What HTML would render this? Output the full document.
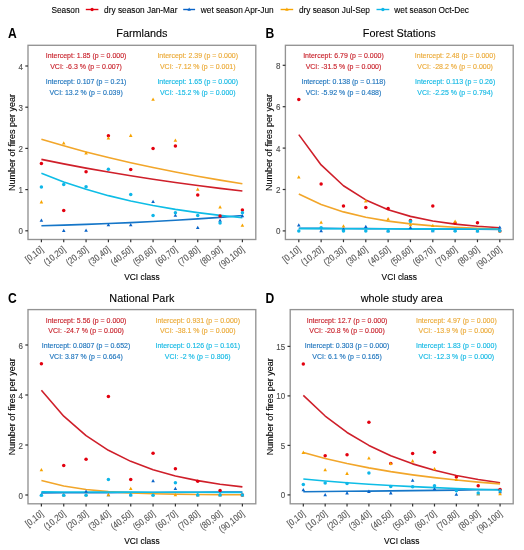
<!DOCTYPE html>
<html><head><meta charset="utf-8"><style>
html,body{margin:0;padding:0;background:#fff;width:524px;height:550px;overflow:hidden}
svg{display:block;will-change:transform}
</style></head><body>
<svg width="524" height="550" viewBox="0 0 524 550" font-family="Liberation Sans, sans-serif">
<rect width="524" height="550" fill="#fff"/>
<text x="51.4" y="12.5" font-size="8.3" fill="#000" stroke="#000" stroke-width="0.1">Season</text>
<line x1="85.8" y1="9.5" x2="98.4" y2="9.5" stroke="#E3000F" stroke-width="1.4"/>
<circle cx="92.10" cy="9.50" r="1.66" fill="#E3000F"/>
<text x="104.1" y="12.5" font-size="8.3" fill="#000" stroke="#000" stroke-width="0.1">dry season Jan-Mar</text>
<line x1="183.2" y1="9.5" x2="195.1" y2="9.5" stroke="#0A64C8" stroke-width="1.4"/>
<path d="M189.15 7.62L190.86 10.75L187.44 10.75Z" fill="#0A64C8"/>
<text x="200.8" y="12.5" font-size="8.3" fill="#000" stroke="#000" stroke-width="0.1">wet season Apr-Jun</text>
<line x1="280.6" y1="9.5" x2="293.2" y2="9.5" stroke="#F7A400" stroke-width="1.4"/>
<path d="M286.90 7.62L288.61 10.75L285.19 10.75Z" fill="#F7A400"/>
<text x="298.9" y="12.5" font-size="8.3" fill="#000" stroke="#000" stroke-width="0.1">dry season Jul-Sep</text>
<line x1="376.5" y1="9.5" x2="389.3" y2="9.5" stroke="#0EB6E8" stroke-width="1.4"/>
<circle cx="382.90" cy="9.50" r="1.66" fill="#0EB6E8"/>
<text x="394.3" y="12.5" font-size="8.3" fill="#000" stroke="#000" stroke-width="0.1">wet season Oct-Dec</text>
<text transform="translate(8.00,38.20) scale(0.93,1.08)" font-size="13" font-weight="bold" fill="#000">A</text>
<text x="141.90" y="37.20" font-size="10.85" text-anchor="middle" fill="#000" stroke="#000" stroke-width="0.1">Farmlands</text>
<g>
<polyline points="41.40,159.38 63.73,163.88 86.07,168.10 108.40,172.05 130.73,175.75 153.07,179.22 175.40,182.47 197.73,185.51 220.07,188.36 242.40,191.04" fill="none" stroke="#CF1F2A" stroke-width="1.6" stroke-linejoin="round"/>
<polyline points="41.40,225.81 63.73,225.15 86.07,224.41 108.40,223.56 130.73,222.61 153.07,221.52 175.40,220.30 197.73,218.91 220.07,217.34 242.40,215.57" fill="none" stroke="#1576C8" stroke-width="1.6" stroke-linejoin="round"/>
<polyline points="41.40,139.34 63.73,145.85 86.07,151.90 108.40,157.52 130.73,162.74 153.07,167.58 175.40,172.08 197.73,176.27 220.07,180.15 242.40,183.75" fill="none" stroke="#F2A62A" stroke-width="1.6" stroke-linejoin="round"/>
<polyline points="41.40,173.15 63.73,181.92 86.07,189.35 108.40,195.65 130.73,200.99 153.07,205.52 175.40,209.36 197.73,212.62 220.07,215.38 242.40,217.73" fill="none" stroke="#0EBDE6" stroke-width="1.6" stroke-linejoin="round"/>
<circle cx="41.40" cy="163.60" r="1.75" fill="#E3000F"/>
<path d="M41.40 218.52L43.20 221.82L39.60 221.82Z" fill="#0A64C8"/>
<path d="M41.40 200.12L43.20 203.42L39.60 203.42Z" fill="#F7A400"/>
<circle cx="41.40" cy="187.10" r="1.75" fill="#0EB6E8"/>
<circle cx="63.73" cy="210.50" r="1.75" fill="#E3000F"/>
<path d="M63.73 228.82L65.53 232.12L61.93 232.12Z" fill="#0A64C8"/>
<path d="M63.73 141.22L65.53 144.52L61.93 144.52Z" fill="#F7A400"/>
<circle cx="63.73" cy="184.40" r="1.75" fill="#0EB6E8"/>
<circle cx="86.07" cy="171.80" r="1.75" fill="#E3000F"/>
<path d="M86.07 228.42L87.87 231.72L84.27 231.72Z" fill="#0A64C8"/>
<path d="M86.07 151.32L87.87 154.62L84.27 154.62Z" fill="#F7A400"/>
<circle cx="86.07" cy="186.80" r="1.75" fill="#0EB6E8"/>
<circle cx="108.40" cy="135.70" r="1.75" fill="#E3000F"/>
<path d="M108.40 223.02L110.20 226.32L106.60 226.32Z" fill="#0A64C8"/>
<path d="M108.40 136.22L110.20 139.52L106.60 139.52Z" fill="#F7A400"/>
<circle cx="108.40" cy="169.30" r="1.75" fill="#0EB6E8"/>
<circle cx="130.73" cy="169.60" r="1.75" fill="#E3000F"/>
<path d="M130.73 223.02L132.53 226.32L128.93 226.32Z" fill="#0A64C8"/>
<path d="M130.73 133.62L132.53 136.92L128.93 136.92Z" fill="#F7A400"/>
<circle cx="130.73" cy="194.50" r="1.75" fill="#0EB6E8"/>
<circle cx="153.07" cy="148.60" r="1.75" fill="#E3000F"/>
<path d="M153.07 199.82L154.87 203.12L151.27 203.12Z" fill="#0A64C8"/>
<path d="M153.07 97.52L154.87 100.82L151.27 100.82Z" fill="#F7A400"/>
<circle cx="153.07" cy="215.40" r="1.75" fill="#0EB6E8"/>
<circle cx="175.40" cy="145.90" r="1.75" fill="#E3000F"/>
<path d="M175.40 213.42L177.20 216.72L173.60 216.72Z" fill="#0A64C8"/>
<path d="M175.40 138.42L177.20 141.72L173.60 141.72Z" fill="#F7A400"/>
<circle cx="175.40" cy="212.70" r="1.75" fill="#0EB6E8"/>
<circle cx="197.73" cy="195.00" r="1.75" fill="#E3000F"/>
<path d="M197.73 225.72L199.53 229.02L195.93 229.02Z" fill="#0A64C8"/>
<path d="M197.73 187.52L199.53 190.82L195.93 190.82Z" fill="#F7A400"/>
<circle cx="197.73" cy="215.40" r="1.75" fill="#0EB6E8"/>
<circle cx="220.07" cy="216.00" r="1.75" fill="#E3000F"/>
<path d="M220.07 218.42L221.87 221.72L218.27 221.72Z" fill="#0A64C8"/>
<path d="M220.07 205.32L221.87 208.62L218.27 208.62Z" fill="#F7A400"/>
<circle cx="220.07" cy="223.10" r="1.75" fill="#0EB6E8"/>
<circle cx="242.40" cy="210.00" r="1.75" fill="#E3000F"/>
<path d="M242.40 214.02L244.20 217.32L240.60 217.32Z" fill="#0A64C8"/>
<path d="M242.40 223.52L244.20 226.82L240.60 226.82Z" fill="#F7A400"/>
<circle cx="242.40" cy="212.70" r="1.75" fill="#0EB6E8"/>
<text transform="translate(86.07,58.20) scale(1,1.14)" font-size="7" text-anchor="middle" fill="#C8202A" stroke="#C8202A" stroke-width="0.12">Intercept: 1.85 (p = 0.000)</text>
<text transform="translate(86.07,68.60) scale(1,1.14)" font-size="7" text-anchor="middle" fill="#C8202A" stroke="#C8202A" stroke-width="0.12">VCI: -6.3 % (p = 0.007)</text>
<text transform="translate(86.07,84.10) scale(1,1.14)" font-size="7" text-anchor="middle" fill="#1A72BC" stroke="#1A72BC" stroke-width="0.12">Intercept: 0.107 (p = 0.21)</text>
<text transform="translate(86.07,94.50) scale(1,1.14)" font-size="7" text-anchor="middle" fill="#1A72BC" stroke="#1A72BC" stroke-width="0.12">VCI: 13.2 % (p = 0.039)</text>
<text transform="translate(197.73,58.20) scale(1,1.14)" font-size="7" text-anchor="middle" fill="#EBA935" stroke="#EBA935" stroke-width="0.12">Intercept: 2.39 (p = 0.000)</text>
<text transform="translate(197.73,68.60) scale(1,1.14)" font-size="7" text-anchor="middle" fill="#EBA935" stroke="#EBA935" stroke-width="0.12">VCI: -7.12 % (p = 0.001)</text>
<text transform="translate(197.73,84.10) scale(1,1.14)" font-size="7" text-anchor="middle" fill="#10B8E4" stroke="#10B8E4" stroke-width="0.12">Intercept: 1.65 (p = 0.000)</text>
<text transform="translate(197.73,94.50) scale(1,1.14)" font-size="7" text-anchor="middle" fill="#10B8E4" stroke="#10B8E4" stroke-width="0.12">VCI: -15.2 % (p = 0.000)</text>
</g>
<rect x="28.00" y="45.30" width="227.80" height="194.20" fill="none" stroke="#939393" stroke-width="1.35"/>
<line x1="25.30" y1="230.80" x2="28.00" y2="230.80" stroke="#333" stroke-width="1.2"/>
<text transform="translate(23.00,234.30) scale(1,1.18)" font-size="8" text-anchor="end" fill="#4d4d4d" stroke="#4d4d4d" stroke-width="0.12">0</text>
<line x1="25.30" y1="189.60" x2="28.00" y2="189.60" stroke="#333" stroke-width="1.2"/>
<text transform="translate(23.00,193.10) scale(1,1.18)" font-size="8" text-anchor="end" fill="#4d4d4d" stroke="#4d4d4d" stroke-width="0.12">1</text>
<line x1="25.30" y1="148.40" x2="28.00" y2="148.40" stroke="#333" stroke-width="1.2"/>
<text transform="translate(23.00,151.90) scale(1,1.18)" font-size="8" text-anchor="end" fill="#4d4d4d" stroke="#4d4d4d" stroke-width="0.12">2</text>
<line x1="25.30" y1="107.20" x2="28.00" y2="107.20" stroke="#333" stroke-width="1.2"/>
<text transform="translate(23.00,110.70) scale(1,1.18)" font-size="8" text-anchor="end" fill="#4d4d4d" stroke="#4d4d4d" stroke-width="0.12">3</text>
<line x1="25.30" y1="66.00" x2="28.00" y2="66.00" stroke="#333" stroke-width="1.2"/>
<text transform="translate(23.00,69.50) scale(1,1.18)" font-size="8" text-anchor="end" fill="#4d4d4d" stroke="#4d4d4d" stroke-width="0.12">4</text>
<line x1="41.40" y1="239.50" x2="41.40" y2="242.20" stroke="#333" stroke-width="1.2"/>
<text transform="translate(40.10,245.70) rotate(-38) scale(1,1.16)" x="0" y="5.4" font-size="8.0" text-anchor="end" fill="#555" stroke="#555" stroke-width="0.1">[0,10]</text>
<line x1="63.73" y1="239.50" x2="63.73" y2="242.20" stroke="#333" stroke-width="1.2"/>
<text transform="translate(62.43,245.70) rotate(-38) scale(1,1.16)" x="0" y="5.4" font-size="8.0" text-anchor="end" fill="#555" stroke="#555" stroke-width="0.1">(10,20]</text>
<line x1="86.07" y1="239.50" x2="86.07" y2="242.20" stroke="#333" stroke-width="1.2"/>
<text transform="translate(84.77,245.70) rotate(-38) scale(1,1.16)" x="0" y="5.4" font-size="8.0" text-anchor="end" fill="#555" stroke="#555" stroke-width="0.1">(20,30]</text>
<line x1="108.40" y1="239.50" x2="108.40" y2="242.20" stroke="#333" stroke-width="1.2"/>
<text transform="translate(107.10,245.70) rotate(-38) scale(1,1.16)" x="0" y="5.4" font-size="8.0" text-anchor="end" fill="#555" stroke="#555" stroke-width="0.1">(30,40]</text>
<line x1="130.73" y1="239.50" x2="130.73" y2="242.20" stroke="#333" stroke-width="1.2"/>
<text transform="translate(129.43,245.70) rotate(-38) scale(1,1.16)" x="0" y="5.4" font-size="8.0" text-anchor="end" fill="#555" stroke="#555" stroke-width="0.1">(40,50]</text>
<line x1="153.07" y1="239.50" x2="153.07" y2="242.20" stroke="#333" stroke-width="1.2"/>
<text transform="translate(151.77,245.70) rotate(-38) scale(1,1.16)" x="0" y="5.4" font-size="8.0" text-anchor="end" fill="#555" stroke="#555" stroke-width="0.1">(50,60]</text>
<line x1="175.40" y1="239.50" x2="175.40" y2="242.20" stroke="#333" stroke-width="1.2"/>
<text transform="translate(174.10,245.70) rotate(-38) scale(1,1.16)" x="0" y="5.4" font-size="8.0" text-anchor="end" fill="#555" stroke="#555" stroke-width="0.1">(60,70]</text>
<line x1="197.73" y1="239.50" x2="197.73" y2="242.20" stroke="#333" stroke-width="1.2"/>
<text transform="translate(196.43,245.70) rotate(-38) scale(1,1.16)" x="0" y="5.4" font-size="8.0" text-anchor="end" fill="#555" stroke="#555" stroke-width="0.1">(70,80]</text>
<line x1="220.07" y1="239.50" x2="220.07" y2="242.20" stroke="#333" stroke-width="1.2"/>
<text transform="translate(218.77,245.70) rotate(-38) scale(1,1.16)" x="0" y="5.4" font-size="8.0" text-anchor="end" fill="#555" stroke="#555" stroke-width="0.1">(80,90]</text>
<line x1="242.40" y1="239.50" x2="242.40" y2="242.20" stroke="#333" stroke-width="1.2"/>
<text transform="translate(241.10,245.70) rotate(-38) scale(1,1.16)" x="0" y="5.4" font-size="8.0" text-anchor="end" fill="#555" stroke="#555" stroke-width="0.1">(90,100]</text>
<text x="141.90" y="280.10" font-size="8.4" text-anchor="middle" fill="#000" stroke="#000" stroke-width="0.12">VCI class</text>
<text transform="translate(14.80,142.40) rotate(-90)" x="0" y="0" font-size="9" text-anchor="middle" fill="#000" stroke="#000" stroke-width="0.12">Number of fires per year</text>
<text transform="translate(265.60,38.20) scale(0.93,1.08)" font-size="13" font-weight="bold" fill="#000">B</text>
<text x="399.30" y="37.20" font-size="10.85" text-anchor="middle" fill="#000" stroke="#000" stroke-width="0.1">Forest Stations</text>
<g>
<polyline points="298.80,134.62 321.13,164.95 343.47,185.72 365.80,199.95 388.13,209.70 410.47,216.38 432.80,220.95 455.13,224.09 477.47,226.23 499.80,227.70" fill="none" stroke="#CF1F2A" stroke-width="1.6" stroke-linejoin="round"/>
<polyline points="298.80,228.21 321.13,228.37 343.47,228.52 365.80,228.66 388.13,228.79 410.47,228.92 432.80,229.04 455.13,229.15 477.47,229.25 499.80,229.35" fill="none" stroke="#1576C8" stroke-width="1.6" stroke-linejoin="round"/>
<polyline points="298.80,194.04 321.13,204.44 343.47,211.90 365.80,217.26 388.13,221.10 410.47,223.87 432.80,225.85 455.13,227.27 477.47,228.30 499.80,229.03" fill="none" stroke="#F2A62A" stroke-width="1.6" stroke-linejoin="round"/>
<polyline points="298.80,228.61 321.13,228.66 343.47,228.72 365.80,228.76 388.13,228.81 410.47,228.86 432.80,228.91 455.13,228.95 477.47,228.99 499.80,229.04" fill="none" stroke="#0EBDE6" stroke-width="1.6" stroke-linejoin="round"/>
<circle cx="298.80" cy="99.60" r="1.75" fill="#E3000F"/>
<path d="M298.80 223.22L300.60 226.52L297.00 226.52Z" fill="#0A64C8"/>
<path d="M298.80 175.32L300.60 178.62L297.00 178.62Z" fill="#F7A400"/>
<circle cx="298.80" cy="230.90" r="1.75" fill="#0EB6E8"/>
<circle cx="321.13" cy="184.10" r="1.75" fill="#E3000F"/>
<path d="M321.13 228.92L322.93 232.22L319.33 232.22Z" fill="#0A64C8"/>
<path d="M321.13 220.52L322.93 223.82L319.33 223.82Z" fill="#F7A400"/>
<circle cx="321.13" cy="227.70" r="1.75" fill="#0EB6E8"/>
<circle cx="343.47" cy="206.10" r="1.75" fill="#E3000F"/>
<path d="M343.47 227.22L345.27 230.52L341.67 230.52Z" fill="#0A64C8"/>
<path d="M343.47 224.32L345.27 227.62L341.67 227.62Z" fill="#F7A400"/>
<circle cx="343.47" cy="230.90" r="1.75" fill="#0EB6E8"/>
<circle cx="365.80" cy="207.40" r="1.75" fill="#E3000F"/>
<path d="M365.80 224.72L367.60 228.02L364.00 228.02Z" fill="#0A64C8"/>
<path d="M365.80 199.12L367.60 202.42L364.00 202.42Z" fill="#F7A400"/>
<circle cx="365.80" cy="230.90" r="1.75" fill="#0EB6E8"/>
<circle cx="388.13" cy="208.40" r="1.75" fill="#E3000F"/>
<path d="M388.13 228.92L389.93 232.22L386.33 232.22Z" fill="#0A64C8"/>
<path d="M388.13 217.32L389.93 220.62L386.33 220.62Z" fill="#F7A400"/>
<circle cx="388.13" cy="230.90" r="1.75" fill="#0EB6E8"/>
<circle cx="410.47" cy="220.40" r="1.75" fill="#E3000F"/>
<path d="M410.47 225.72L412.27 229.02L408.67 229.02Z" fill="#0A64C8"/>
<path d="M410.47 223.02L412.27 226.32L408.67 226.32Z" fill="#F7A400"/>
<circle cx="410.47" cy="221.40" r="1.75" fill="#0EB6E8"/>
<circle cx="432.80" cy="206.10" r="1.75" fill="#E3000F"/>
<path d="M432.80 228.92L434.60 232.22L431.00 232.22Z" fill="#0A64C8"/>
<path d="M432.80 223.72L434.60 227.02L431.00 227.02Z" fill="#F7A400"/>
<circle cx="432.80" cy="230.40" r="1.75" fill="#0EB6E8"/>
<circle cx="455.13" cy="223.00" r="1.75" fill="#E3000F"/>
<path d="M455.13 228.42L456.93 231.72L453.33 231.72Z" fill="#0A64C8"/>
<path d="M455.13 219.52L456.93 222.82L453.33 222.82Z" fill="#F7A400"/>
<circle cx="455.13" cy="230.90" r="1.75" fill="#0EB6E8"/>
<circle cx="477.47" cy="222.80" r="1.75" fill="#E3000F"/>
<path d="M477.47 228.92L479.27 232.22L475.67 232.22Z" fill="#0A64C8"/>
<path d="M477.47 228.32L479.27 231.62L475.67 231.62Z" fill="#F7A400"/>
<circle cx="477.47" cy="230.90" r="1.75" fill="#0EB6E8"/>
<circle cx="499.80" cy="230.90" r="1.75" fill="#E3000F"/>
<path d="M499.80 225.42L501.60 228.72L498.00 228.72Z" fill="#0A64C8"/>
<path d="M499.80 228.92L501.60 232.22L498.00 232.22Z" fill="#F7A400"/>
<circle cx="499.80" cy="230.80" r="1.75" fill="#0EB6E8"/>
<text transform="translate(343.47,58.20) scale(1,1.14)" font-size="7" text-anchor="middle" fill="#C8202A" stroke="#C8202A" stroke-width="0.12">Intercept: 6.79 (p = 0.000)</text>
<text transform="translate(343.47,68.60) scale(1,1.14)" font-size="7" text-anchor="middle" fill="#C8202A" stroke="#C8202A" stroke-width="0.12">VCI: -31.5 % (p = 0.000)</text>
<text transform="translate(343.47,84.10) scale(1,1.14)" font-size="7" text-anchor="middle" fill="#1A72BC" stroke="#1A72BC" stroke-width="0.12">Intercept: 0.138 (p = 0.118)</text>
<text transform="translate(343.47,94.50) scale(1,1.14)" font-size="7" text-anchor="middle" fill="#1A72BC" stroke="#1A72BC" stroke-width="0.12">VCI: -5.92 % (p = 0.488)</text>
<text transform="translate(455.13,58.20) scale(1,1.14)" font-size="7" text-anchor="middle" fill="#EBA935" stroke="#EBA935" stroke-width="0.12">Intercept: 2.48 (p = 0.000)</text>
<text transform="translate(455.13,68.60) scale(1,1.14)" font-size="7" text-anchor="middle" fill="#EBA935" stroke="#EBA935" stroke-width="0.12">VCI: -28.2 % (p = 0.000)</text>
<text transform="translate(455.13,84.10) scale(1,1.14)" font-size="7" text-anchor="middle" fill="#10B8E4" stroke="#10B8E4" stroke-width="0.12">Intercept: 0.113 (p = 0.26)</text>
<text transform="translate(455.13,94.50) scale(1,1.14)" font-size="7" text-anchor="middle" fill="#10B8E4" stroke="#10B8E4" stroke-width="0.12">VCI: -2.25 % (p = 0.794)</text>
</g>
<rect x="285.40" y="45.30" width="227.80" height="194.20" fill="none" stroke="#939393" stroke-width="1.35"/>
<line x1="282.70" y1="230.90" x2="285.40" y2="230.90" stroke="#333" stroke-width="1.2"/>
<text transform="translate(280.40,234.40) scale(1,1.18)" font-size="8" text-anchor="end" fill="#4d4d4d" stroke="#4d4d4d" stroke-width="0.12">0</text>
<line x1="282.70" y1="189.50" x2="285.40" y2="189.50" stroke="#333" stroke-width="1.2"/>
<text transform="translate(280.40,193.00) scale(1,1.18)" font-size="8" text-anchor="end" fill="#4d4d4d" stroke="#4d4d4d" stroke-width="0.12">2</text>
<line x1="282.70" y1="148.10" x2="285.40" y2="148.10" stroke="#333" stroke-width="1.2"/>
<text transform="translate(280.40,151.60) scale(1,1.18)" font-size="8" text-anchor="end" fill="#4d4d4d" stroke="#4d4d4d" stroke-width="0.12">4</text>
<line x1="282.70" y1="106.70" x2="285.40" y2="106.70" stroke="#333" stroke-width="1.2"/>
<text transform="translate(280.40,110.20) scale(1,1.18)" font-size="8" text-anchor="end" fill="#4d4d4d" stroke="#4d4d4d" stroke-width="0.12">6</text>
<line x1="282.70" y1="65.30" x2="285.40" y2="65.30" stroke="#333" stroke-width="1.2"/>
<text transform="translate(280.40,68.80) scale(1,1.18)" font-size="8" text-anchor="end" fill="#4d4d4d" stroke="#4d4d4d" stroke-width="0.12">8</text>
<line x1="298.80" y1="239.50" x2="298.80" y2="242.20" stroke="#333" stroke-width="1.2"/>
<text transform="translate(297.50,245.70) rotate(-38) scale(1,1.16)" x="0" y="5.4" font-size="8.0" text-anchor="end" fill="#555" stroke="#555" stroke-width="0.1">[0,10]</text>
<line x1="321.13" y1="239.50" x2="321.13" y2="242.20" stroke="#333" stroke-width="1.2"/>
<text transform="translate(319.83,245.70) rotate(-38) scale(1,1.16)" x="0" y="5.4" font-size="8.0" text-anchor="end" fill="#555" stroke="#555" stroke-width="0.1">(10,20]</text>
<line x1="343.47" y1="239.50" x2="343.47" y2="242.20" stroke="#333" stroke-width="1.2"/>
<text transform="translate(342.17,245.70) rotate(-38) scale(1,1.16)" x="0" y="5.4" font-size="8.0" text-anchor="end" fill="#555" stroke="#555" stroke-width="0.1">(20,30]</text>
<line x1="365.80" y1="239.50" x2="365.80" y2="242.20" stroke="#333" stroke-width="1.2"/>
<text transform="translate(364.50,245.70) rotate(-38) scale(1,1.16)" x="0" y="5.4" font-size="8.0" text-anchor="end" fill="#555" stroke="#555" stroke-width="0.1">(30,40]</text>
<line x1="388.13" y1="239.50" x2="388.13" y2="242.20" stroke="#333" stroke-width="1.2"/>
<text transform="translate(386.83,245.70) rotate(-38) scale(1,1.16)" x="0" y="5.4" font-size="8.0" text-anchor="end" fill="#555" stroke="#555" stroke-width="0.1">(40,50]</text>
<line x1="410.47" y1="239.50" x2="410.47" y2="242.20" stroke="#333" stroke-width="1.2"/>
<text transform="translate(409.17,245.70) rotate(-38) scale(1,1.16)" x="0" y="5.4" font-size="8.0" text-anchor="end" fill="#555" stroke="#555" stroke-width="0.1">(50,60]</text>
<line x1="432.80" y1="239.50" x2="432.80" y2="242.20" stroke="#333" stroke-width="1.2"/>
<text transform="translate(431.50,245.70) rotate(-38) scale(1,1.16)" x="0" y="5.4" font-size="8.0" text-anchor="end" fill="#555" stroke="#555" stroke-width="0.1">(60,70]</text>
<line x1="455.13" y1="239.50" x2="455.13" y2="242.20" stroke="#333" stroke-width="1.2"/>
<text transform="translate(453.83,245.70) rotate(-38) scale(1,1.16)" x="0" y="5.4" font-size="8.0" text-anchor="end" fill="#555" stroke="#555" stroke-width="0.1">(70,80]</text>
<line x1="477.47" y1="239.50" x2="477.47" y2="242.20" stroke="#333" stroke-width="1.2"/>
<text transform="translate(476.17,245.70) rotate(-38) scale(1,1.16)" x="0" y="5.4" font-size="8.0" text-anchor="end" fill="#555" stroke="#555" stroke-width="0.1">(80,90]</text>
<line x1="499.80" y1="239.50" x2="499.80" y2="242.20" stroke="#333" stroke-width="1.2"/>
<text transform="translate(498.50,245.70) rotate(-38) scale(1,1.16)" x="0" y="5.4" font-size="8.0" text-anchor="end" fill="#555" stroke="#555" stroke-width="0.1">(90,100]</text>
<text x="399.30" y="280.10" font-size="8.4" text-anchor="middle" fill="#000" stroke="#000" stroke-width="0.12">VCI class</text>
<text transform="translate(272.20,142.40) rotate(-90)" x="0" y="0" font-size="9" text-anchor="middle" fill="#000" stroke="#000" stroke-width="0.12">Number of fires per year</text>
<text transform="translate(8.00,302.50) scale(0.93,1.08)" font-size="13" font-weight="bold" fill="#000">C</text>
<text x="141.90" y="301.50" font-size="10.85" text-anchor="middle" fill="#000" stroke="#000" stroke-width="0.1">National Park</text>
<g>
<polyline points="41.40,390.33 63.73,416.19 86.07,435.65 108.40,450.31 130.73,461.35 153.07,469.66 175.40,475.92 197.73,480.63 220.07,484.18 242.40,486.85" fill="none" stroke="#CF1F2A" stroke-width="1.6" stroke-linejoin="round"/>
<polyline points="41.40,492.90 63.73,492.82 86.07,492.74 108.40,492.65 130.73,492.56 153.07,492.47 175.40,492.37 197.73,492.27 220.07,492.16 242.40,492.05" fill="none" stroke="#1576C8" stroke-width="1.6" stroke-linejoin="round"/>
<polyline points="41.40,480.59 63.73,486.08 86.07,489.48 108.40,491.58 130.73,492.88 153.07,493.69 175.40,494.19 197.73,494.50 220.07,494.69 242.40,494.81" fill="none" stroke="#F2A62A" stroke-width="1.6" stroke-linejoin="round"/>
<polyline points="41.40,491.91 63.73,491.97 86.07,492.04 108.40,492.09 130.73,492.15 153.07,492.21 175.40,492.27 197.73,492.32 220.07,492.37 242.40,492.43" fill="none" stroke="#0EBDE6" stroke-width="1.6" stroke-linejoin="round"/>
<circle cx="41.40" cy="363.80" r="1.75" fill="#E3000F"/>
<path d="M41.40 493.02L43.20 496.32L39.60 496.32Z" fill="#0A64C8"/>
<path d="M41.40 468.02L43.20 471.32L39.60 471.32Z" fill="#F7A400"/>
<circle cx="41.40" cy="495.20" r="1.75" fill="#0EB6E8"/>
<circle cx="63.73" cy="465.60" r="1.75" fill="#E3000F"/>
<path d="M63.73 493.02L65.53 496.32L61.93 496.32Z" fill="#0A64C8"/>
<path d="M63.73 493.02L65.53 496.32L61.93 496.32Z" fill="#F7A400"/>
<circle cx="63.73" cy="495.20" r="1.75" fill="#0EB6E8"/>
<circle cx="86.07" cy="459.30" r="1.75" fill="#E3000F"/>
<path d="M86.07 489.42L87.87 492.72L84.27 492.72Z" fill="#0A64C8"/>
<path d="M86.07 493.02L87.87 496.32L84.27 496.32Z" fill="#F7A400"/>
<circle cx="86.07" cy="495.20" r="1.75" fill="#0EB6E8"/>
<circle cx="108.40" cy="396.60" r="1.75" fill="#E3000F"/>
<path d="M108.40 493.02L110.20 496.32L106.60 496.32Z" fill="#0A64C8"/>
<path d="M108.40 493.02L110.20 496.32L106.60 496.32Z" fill="#F7A400"/>
<circle cx="108.40" cy="479.50" r="1.75" fill="#0EB6E8"/>
<circle cx="130.73" cy="479.50" r="1.75" fill="#E3000F"/>
<path d="M130.73 493.02L132.53 496.32L128.93 496.32Z" fill="#0A64C8"/>
<path d="M130.73 486.72L132.53 490.02L128.93 490.02Z" fill="#F7A400"/>
<circle cx="130.73" cy="495.00" r="1.75" fill="#0EB6E8"/>
<circle cx="153.07" cy="453.30" r="1.75" fill="#E3000F"/>
<path d="M153.07 479.02L154.87 482.32L151.27 482.32Z" fill="#0A64C8"/>
<path d="M153.07 493.02L154.87 496.32L151.27 496.32Z" fill="#F7A400"/>
<circle cx="153.07" cy="495.30" r="1.75" fill="#0EB6E8"/>
<circle cx="175.40" cy="468.80" r="1.75" fill="#E3000F"/>
<path d="M175.40 486.72L177.20 490.02L173.60 490.02Z" fill="#0A64C8"/>
<path d="M175.40 493.02L177.20 496.32L173.60 496.32Z" fill="#F7A400"/>
<circle cx="175.40" cy="482.70" r="1.75" fill="#0EB6E8"/>
<circle cx="197.73" cy="481.20" r="1.75" fill="#E3000F"/>
<path d="M197.73 493.02L199.53 496.32L195.93 496.32Z" fill="#0A64C8"/>
<path d="M197.73 493.02L199.53 496.32L195.93 496.32Z" fill="#F7A400"/>
<circle cx="197.73" cy="495.00" r="1.75" fill="#0EB6E8"/>
<circle cx="220.07" cy="490.50" r="1.75" fill="#E3000F"/>
<path d="M220.07 493.02L221.87 496.32L218.27 496.32Z" fill="#0A64C8"/>
<path d="M220.07 493.02L221.87 496.32L218.27 496.32Z" fill="#F7A400"/>
<circle cx="220.07" cy="495.00" r="1.75" fill="#0EB6E8"/>
<circle cx="242.40" cy="495.00" r="1.75" fill="#E3000F"/>
<path d="M242.40 493.02L244.20 496.32L240.60 496.32Z" fill="#0A64C8"/>
<path d="M242.40 493.02L244.20 496.32L240.60 496.32Z" fill="#F7A400"/>
<circle cx="242.40" cy="495.00" r="1.75" fill="#0EB6E8"/>
<text transform="translate(86.07,322.50) scale(1,1.14)" font-size="7" text-anchor="middle" fill="#C8202A" stroke="#C8202A" stroke-width="0.12">Intercept: 5.56 (p = 0.000)</text>
<text transform="translate(86.07,332.90) scale(1,1.14)" font-size="7" text-anchor="middle" fill="#C8202A" stroke="#C8202A" stroke-width="0.12">VCI: -24.7 % (p = 0.000)</text>
<text transform="translate(86.07,348.40) scale(1,1.14)" font-size="7" text-anchor="middle" fill="#1A72BC" stroke="#1A72BC" stroke-width="0.12">Intercept: 0.0807 (p = 0.652)</text>
<text transform="translate(86.07,358.80) scale(1,1.14)" font-size="7" text-anchor="middle" fill="#1A72BC" stroke="#1A72BC" stroke-width="0.12">VCI: 3.87 % (p = 0.664)</text>
<text transform="translate(197.73,322.50) scale(1,1.14)" font-size="7" text-anchor="middle" fill="#EBA935" stroke="#EBA935" stroke-width="0.12">Intercept: 0.931 (p = 0.000)</text>
<text transform="translate(197.73,332.90) scale(1,1.14)" font-size="7" text-anchor="middle" fill="#EBA935" stroke="#EBA935" stroke-width="0.12">VCI: -38.1 % (p = 0.000)</text>
<text transform="translate(197.73,348.40) scale(1,1.14)" font-size="7" text-anchor="middle" fill="#10B8E4" stroke="#10B8E4" stroke-width="0.12">Intercept: 0.126 (p = 0.161)</text>
<text transform="translate(197.73,358.80) scale(1,1.14)" font-size="7" text-anchor="middle" fill="#10B8E4" stroke="#10B8E4" stroke-width="0.12">VCI: -2 % (p = 0.806)</text>
</g>
<rect x="28.00" y="309.60" width="227.80" height="194.20" fill="none" stroke="#939393" stroke-width="1.35"/>
<line x1="25.30" y1="495.00" x2="28.00" y2="495.00" stroke="#333" stroke-width="1.2"/>
<text transform="translate(23.00,498.50) scale(1,1.18)" font-size="8" text-anchor="end" fill="#4d4d4d" stroke="#4d4d4d" stroke-width="0.12">0</text>
<line x1="25.30" y1="445.00" x2="28.00" y2="445.00" stroke="#333" stroke-width="1.2"/>
<text transform="translate(23.00,448.50) scale(1,1.18)" font-size="8" text-anchor="end" fill="#4d4d4d" stroke="#4d4d4d" stroke-width="0.12">2</text>
<line x1="25.30" y1="395.00" x2="28.00" y2="395.00" stroke="#333" stroke-width="1.2"/>
<text transform="translate(23.00,398.50) scale(1,1.18)" font-size="8" text-anchor="end" fill="#4d4d4d" stroke="#4d4d4d" stroke-width="0.12">4</text>
<line x1="25.30" y1="345.00" x2="28.00" y2="345.00" stroke="#333" stroke-width="1.2"/>
<text transform="translate(23.00,348.50) scale(1,1.18)" font-size="8" text-anchor="end" fill="#4d4d4d" stroke="#4d4d4d" stroke-width="0.12">6</text>
<line x1="41.40" y1="503.80" x2="41.40" y2="506.50" stroke="#333" stroke-width="1.2"/>
<text transform="translate(40.10,510.00) rotate(-38) scale(1,1.16)" x="0" y="5.4" font-size="8.0" text-anchor="end" fill="#555" stroke="#555" stroke-width="0.1">[0,10]</text>
<line x1="63.73" y1="503.80" x2="63.73" y2="506.50" stroke="#333" stroke-width="1.2"/>
<text transform="translate(62.43,510.00) rotate(-38) scale(1,1.16)" x="0" y="5.4" font-size="8.0" text-anchor="end" fill="#555" stroke="#555" stroke-width="0.1">(10,20]</text>
<line x1="86.07" y1="503.80" x2="86.07" y2="506.50" stroke="#333" stroke-width="1.2"/>
<text transform="translate(84.77,510.00) rotate(-38) scale(1,1.16)" x="0" y="5.4" font-size="8.0" text-anchor="end" fill="#555" stroke="#555" stroke-width="0.1">(20,30]</text>
<line x1="108.40" y1="503.80" x2="108.40" y2="506.50" stroke="#333" stroke-width="1.2"/>
<text transform="translate(107.10,510.00) rotate(-38) scale(1,1.16)" x="0" y="5.4" font-size="8.0" text-anchor="end" fill="#555" stroke="#555" stroke-width="0.1">(30,40]</text>
<line x1="130.73" y1="503.80" x2="130.73" y2="506.50" stroke="#333" stroke-width="1.2"/>
<text transform="translate(129.43,510.00) rotate(-38) scale(1,1.16)" x="0" y="5.4" font-size="8.0" text-anchor="end" fill="#555" stroke="#555" stroke-width="0.1">(40,50]</text>
<line x1="153.07" y1="503.80" x2="153.07" y2="506.50" stroke="#333" stroke-width="1.2"/>
<text transform="translate(151.77,510.00) rotate(-38) scale(1,1.16)" x="0" y="5.4" font-size="8.0" text-anchor="end" fill="#555" stroke="#555" stroke-width="0.1">(50,60]</text>
<line x1="175.40" y1="503.80" x2="175.40" y2="506.50" stroke="#333" stroke-width="1.2"/>
<text transform="translate(174.10,510.00) rotate(-38) scale(1,1.16)" x="0" y="5.4" font-size="8.0" text-anchor="end" fill="#555" stroke="#555" stroke-width="0.1">(60,70]</text>
<line x1="197.73" y1="503.80" x2="197.73" y2="506.50" stroke="#333" stroke-width="1.2"/>
<text transform="translate(196.43,510.00) rotate(-38) scale(1,1.16)" x="0" y="5.4" font-size="8.0" text-anchor="end" fill="#555" stroke="#555" stroke-width="0.1">(70,80]</text>
<line x1="220.07" y1="503.80" x2="220.07" y2="506.50" stroke="#333" stroke-width="1.2"/>
<text transform="translate(218.77,510.00) rotate(-38) scale(1,1.16)" x="0" y="5.4" font-size="8.0" text-anchor="end" fill="#555" stroke="#555" stroke-width="0.1">(80,90]</text>
<line x1="242.40" y1="503.80" x2="242.40" y2="506.50" stroke="#333" stroke-width="1.2"/>
<text transform="translate(241.10,510.00) rotate(-38) scale(1,1.16)" x="0" y="5.4" font-size="8.0" text-anchor="end" fill="#555" stroke="#555" stroke-width="0.1">(90,100]</text>
<text x="141.90" y="544.40" font-size="8.4" text-anchor="middle" fill="#000" stroke="#000" stroke-width="0.12">VCI class</text>
<text transform="translate(14.80,406.70) rotate(-90)" x="0" y="0" font-size="9" text-anchor="middle" fill="#000" stroke="#000" stroke-width="0.12">Number of fires per year</text>
<text transform="translate(265.60,302.50) scale(0.93,1.08)" font-size="13" font-weight="bold" fill="#000">D</text>
<text x="401.70" y="301.50" font-size="10.85" text-anchor="middle" fill="#000" stroke="#000" stroke-width="0.1">whole study area</text>
<g>
<polyline points="303.32,395.32 325.18,416.03 347.04,432.44 368.91,445.43 390.77,455.72 412.63,463.87 434.49,470.32 456.36,475.44 478.22,479.48 500.08,482.69" fill="none" stroke="#CF1F2A" stroke-width="1.6" stroke-linejoin="round"/>
<polyline points="303.32,491.72 325.18,491.52 347.04,491.32 368.91,491.10 390.77,490.87 412.63,490.62 434.49,490.36 456.36,490.08 478.22,489.79 500.08,489.48" fill="none" stroke="#1576C8" stroke-width="1.6" stroke-linejoin="round"/>
<polyline points="303.32,452.54 325.18,458.42 347.04,463.49 368.91,467.86 390.77,471.62 412.63,474.85 434.49,477.64 456.36,480.04 478.22,482.11 500.08,483.88" fill="none" stroke="#F2A62A" stroke-width="1.6" stroke-linejoin="round"/>
<polyline points="303.32,479.01 325.18,480.97 347.04,482.68 368.91,484.18 390.77,485.50 412.63,486.66 434.49,487.67 456.36,488.56 478.22,489.34 500.08,490.02" fill="none" stroke="#0EBDE6" stroke-width="1.6" stroke-linejoin="round"/>
<circle cx="303.32" cy="364.10" r="1.75" fill="#E3000F"/>
<path d="M303.32 488.02L305.12 491.32L301.52 491.32Z" fill="#0A64C8"/>
<path d="M303.32 450.62L305.12 453.92L301.52 453.92Z" fill="#F7A400"/>
<circle cx="303.32" cy="484.50" r="1.75" fill="#0EB6E8"/>
<circle cx="325.18" cy="455.70" r="1.75" fill="#E3000F"/>
<path d="M325.18 493.02L326.98 496.32L323.38 496.32Z" fill="#0A64C8"/>
<path d="M325.18 468.02L326.98 471.32L323.38 471.32Z" fill="#F7A400"/>
<circle cx="325.18" cy="483.00" r="1.75" fill="#0EB6E8"/>
<circle cx="347.04" cy="454.70" r="1.75" fill="#E3000F"/>
<path d="M347.04 491.12L348.84 494.42L345.24 494.42Z" fill="#0A64C8"/>
<path d="M347.04 471.62L348.84 474.92L345.24 474.92Z" fill="#F7A400"/>
<circle cx="347.04" cy="483.50" r="1.75" fill="#0EB6E8"/>
<circle cx="368.91" cy="422.20" r="1.75" fill="#E3000F"/>
<path d="M368.91 489.62L370.71 492.92L367.11 492.92Z" fill="#0A64C8"/>
<path d="M368.91 456.32L370.71 459.62L367.11 459.62Z" fill="#F7A400"/>
<circle cx="368.91" cy="473.00" r="1.75" fill="#0EB6E8"/>
<circle cx="390.77" cy="463.50" r="1.75" fill="#E3000F"/>
<path d="M390.77 491.12L392.57 494.42L388.97 494.42Z" fill="#0A64C8"/>
<path d="M390.77 461.82L392.57 465.12L388.97 465.12Z" fill="#F7A400"/>
<circle cx="390.77" cy="486.60" r="1.75" fill="#0EB6E8"/>
<circle cx="412.63" cy="453.50" r="1.75" fill="#E3000F"/>
<path d="M412.63 478.52L414.43 481.82L410.83 481.82Z" fill="#0A64C8"/>
<path d="M412.63 459.12L414.43 462.42L410.83 462.42Z" fill="#F7A400"/>
<circle cx="412.63" cy="486.80" r="1.75" fill="#0EB6E8"/>
<circle cx="434.49" cy="452.20" r="1.75" fill="#E3000F"/>
<path d="M434.49 487.02L436.29 490.32L432.69 490.32Z" fill="#0A64C8"/>
<path d="M434.49 466.92L436.29 470.22L432.69 470.22Z" fill="#F7A400"/>
<circle cx="434.49" cy="485.70" r="1.75" fill="#0EB6E8"/>
<circle cx="456.36" cy="477.00" r="1.75" fill="#E3000F"/>
<path d="M456.36 492.42L458.16 495.72L454.56 495.72Z" fill="#0A64C8"/>
<path d="M456.36 477.82L458.16 481.12L454.56 481.12Z" fill="#F7A400"/>
<circle cx="456.36" cy="490.70" r="1.75" fill="#0EB6E8"/>
<circle cx="478.22" cy="485.70" r="1.75" fill="#E3000F"/>
<path d="M478.22 492.02L480.02 495.32L476.42 495.32Z" fill="#0A64C8"/>
<path d="M478.22 492.02L480.02 495.32L476.42 495.32Z" fill="#F7A400"/>
<circle cx="478.22" cy="492.90" r="1.75" fill="#0EB6E8"/>
<circle cx="500.08" cy="489.60" r="1.75" fill="#E3000F"/>
<path d="M500.08 490.02L501.88 493.32L498.28 493.32Z" fill="#0A64C8"/>
<path d="M500.08 492.02L501.88 495.32L498.28 495.32Z" fill="#F7A400"/>
<circle cx="500.08" cy="490.70" r="1.75" fill="#0EB6E8"/>
<text transform="translate(347.04,322.50) scale(1,1.14)" font-size="7" text-anchor="middle" fill="#C8202A" stroke="#C8202A" stroke-width="0.12">Intercept: 12.7 (p = 0.000)</text>
<text transform="translate(347.04,332.90) scale(1,1.14)" font-size="7" text-anchor="middle" fill="#C8202A" stroke="#C8202A" stroke-width="0.12">VCI: -20.8 % (p = 0.000)</text>
<text transform="translate(347.04,348.40) scale(1,1.14)" font-size="7" text-anchor="middle" fill="#1A72BC" stroke="#1A72BC" stroke-width="0.12">Intercept: 0.303 (p = 0.000)</text>
<text transform="translate(347.04,358.80) scale(1,1.14)" font-size="7" text-anchor="middle" fill="#1A72BC" stroke="#1A72BC" stroke-width="0.12">VCI: 6.1 % (p = 0.165)</text>
<text transform="translate(456.36,322.50) scale(1,1.14)" font-size="7" text-anchor="middle" fill="#EBA935" stroke="#EBA935" stroke-width="0.12">Intercept: 4.97 (p = 0.000)</text>
<text transform="translate(456.36,332.90) scale(1,1.14)" font-size="7" text-anchor="middle" fill="#EBA935" stroke="#EBA935" stroke-width="0.12">VCI: -13.9 % (p = 0.000)</text>
<text transform="translate(456.36,348.40) scale(1,1.14)" font-size="7" text-anchor="middle" fill="#10B8E4" stroke="#10B8E4" stroke-width="0.12">Intercept: 1.83 (p = 0.000)</text>
<text transform="translate(456.36,358.80) scale(1,1.14)" font-size="7" text-anchor="middle" fill="#10B8E4" stroke="#10B8E4" stroke-width="0.12">VCI: -12.3 % (p = 0.000)</text>
</g>
<rect x="290.20" y="309.60" width="223.00" height="194.20" fill="none" stroke="#939393" stroke-width="1.35"/>
<line x1="287.50" y1="494.90" x2="290.20" y2="494.90" stroke="#333" stroke-width="1.2"/>
<text transform="translate(285.20,498.40) scale(1,1.18)" font-size="8" text-anchor="end" fill="#4d4d4d" stroke="#4d4d4d" stroke-width="0.12">0</text>
<line x1="287.50" y1="445.40" x2="290.20" y2="445.40" stroke="#333" stroke-width="1.2"/>
<text transform="translate(285.20,448.90) scale(1,1.18)" font-size="8" text-anchor="end" fill="#4d4d4d" stroke="#4d4d4d" stroke-width="0.12">5</text>
<line x1="287.50" y1="395.90" x2="290.20" y2="395.90" stroke="#333" stroke-width="1.2"/>
<text transform="translate(285.20,399.40) scale(1,1.18)" font-size="8" text-anchor="end" fill="#4d4d4d" stroke="#4d4d4d" stroke-width="0.12">10</text>
<line x1="287.50" y1="346.40" x2="290.20" y2="346.40" stroke="#333" stroke-width="1.2"/>
<text transform="translate(285.20,349.90) scale(1,1.18)" font-size="8" text-anchor="end" fill="#4d4d4d" stroke="#4d4d4d" stroke-width="0.12">15</text>
<line x1="303.32" y1="503.80" x2="303.32" y2="506.50" stroke="#333" stroke-width="1.2"/>
<text transform="translate(302.02,510.00) rotate(-38) scale(1,1.16)" x="0" y="5.4" font-size="8.0" text-anchor="end" fill="#555" stroke="#555" stroke-width="0.1">[0,10]</text>
<line x1="325.18" y1="503.80" x2="325.18" y2="506.50" stroke="#333" stroke-width="1.2"/>
<text transform="translate(323.88,510.00) rotate(-38) scale(1,1.16)" x="0" y="5.4" font-size="8.0" text-anchor="end" fill="#555" stroke="#555" stroke-width="0.1">(10,20]</text>
<line x1="347.04" y1="503.80" x2="347.04" y2="506.50" stroke="#333" stroke-width="1.2"/>
<text transform="translate(345.74,510.00) rotate(-38) scale(1,1.16)" x="0" y="5.4" font-size="8.0" text-anchor="end" fill="#555" stroke="#555" stroke-width="0.1">(20,30]</text>
<line x1="368.91" y1="503.80" x2="368.91" y2="506.50" stroke="#333" stroke-width="1.2"/>
<text transform="translate(367.61,510.00) rotate(-38) scale(1,1.16)" x="0" y="5.4" font-size="8.0" text-anchor="end" fill="#555" stroke="#555" stroke-width="0.1">(30,40]</text>
<line x1="390.77" y1="503.80" x2="390.77" y2="506.50" stroke="#333" stroke-width="1.2"/>
<text transform="translate(389.47,510.00) rotate(-38) scale(1,1.16)" x="0" y="5.4" font-size="8.0" text-anchor="end" fill="#555" stroke="#555" stroke-width="0.1">(40,50]</text>
<line x1="412.63" y1="503.80" x2="412.63" y2="506.50" stroke="#333" stroke-width="1.2"/>
<text transform="translate(411.33,510.00) rotate(-38) scale(1,1.16)" x="0" y="5.4" font-size="8.0" text-anchor="end" fill="#555" stroke="#555" stroke-width="0.1">(50,60]</text>
<line x1="434.49" y1="503.80" x2="434.49" y2="506.50" stroke="#333" stroke-width="1.2"/>
<text transform="translate(433.19,510.00) rotate(-38) scale(1,1.16)" x="0" y="5.4" font-size="8.0" text-anchor="end" fill="#555" stroke="#555" stroke-width="0.1">(60,70]</text>
<line x1="456.36" y1="503.80" x2="456.36" y2="506.50" stroke="#333" stroke-width="1.2"/>
<text transform="translate(455.06,510.00) rotate(-38) scale(1,1.16)" x="0" y="5.4" font-size="8.0" text-anchor="end" fill="#555" stroke="#555" stroke-width="0.1">(70,80]</text>
<line x1="478.22" y1="503.80" x2="478.22" y2="506.50" stroke="#333" stroke-width="1.2"/>
<text transform="translate(476.92,510.00) rotate(-38) scale(1,1.16)" x="0" y="5.4" font-size="8.0" text-anchor="end" fill="#555" stroke="#555" stroke-width="0.1">(80,90]</text>
<line x1="500.08" y1="503.80" x2="500.08" y2="506.50" stroke="#333" stroke-width="1.2"/>
<text transform="translate(498.78,510.00) rotate(-38) scale(1,1.16)" x="0" y="5.4" font-size="8.0" text-anchor="end" fill="#555" stroke="#555" stroke-width="0.1">(90,100]</text>
<text x="401.70" y="544.40" font-size="8.4" text-anchor="middle" fill="#000" stroke="#000" stroke-width="0.12">VCI class</text>
<text transform="translate(272.50,406.70) rotate(-90)" x="0" y="0" font-size="9" text-anchor="middle" fill="#000" stroke="#000" stroke-width="0.12">Number of fires per year</text>
</svg>
</body></html>
